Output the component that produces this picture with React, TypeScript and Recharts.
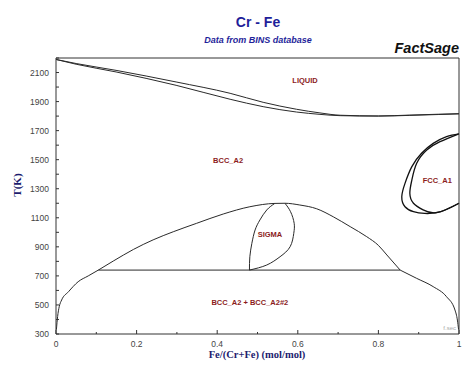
import { LineChart, Line, XAxis, YAxis, ReferenceDot } from "recharts";

// phase boundaries: x = Fe/(Cr+Fe), T in K
const liquidus = [
  { x: 0, T: 2190 }, { x: 0.05, T: 2162 }, { x: 0.149, T: 2115 }, { x: 0.298, T: 2035 },
  { x: 0.432, T: 1957 }, { x: 0.514, T: 1895 }, { x: 0.597, T: 1847 }, { x: 0.655, T: 1822 },
  { x: 0.705, T: 1806 }, { x: 0.8, T: 1801 }, { x: 0.878, T: 1807 }, { x: 0.95, T: 1813 },
  { x: 1, T: 1817 },
];
const solidus = [
  { x: 0, T: 2190 }, { x: 0.05, T: 2157 }, { x: 0.149, T: 2104 }, { x: 0.298, T: 2012 },
  { x: 0.432, T: 1916 }, { x: 0.514, T: 1865 }, { x: 0.597, T: 1828 }, { x: 0.655, T: 1812 },
  { x: 0.705, T: 1803 }, { x: 0.8, T: 1800 }, { x: 0.878, T: 1805 }, { x: 0.95, T: 1811 },
  { x: 1, T: 1815 },
];
const gapLeft = [
  { x: 0.001, T: 330 }, { x: 0.004, T: 420 }, { x: 0.008, T: 488 }, { x: 0.014, T: 534 },
  { x: 0.031, T: 591 }, { x: 0.055, T: 660 }, { x: 0.08, T: 700 }, { x: 0.105, T: 740 },
];
const dome = [
  { x: 0.105, T: 740 }, { x: 0.142, T: 802 }, { x: 0.192, T: 882 }, { x: 0.241, T: 948 },
  { x: 0.291, T: 1004 }, { x: 0.349, T: 1062 }, { x: 0.415, T: 1126 }, { x: 0.481, T: 1176 },
  { x: 0.543, T: 1199 }, { x: 0.568, T: 1200 }, { x: 0.605, T: 1188 }, { x: 0.647, T: 1162 },
  { x: 0.688, T: 1107 }, { x: 0.73, T: 1039 }, { x: 0.771, T: 970 }, { x: 0.8, T: 910 },
  { x: 0.821, T: 844 }, { x: 0.854, T: 740 },
];
const gapRight = [
  { x: 0.854, T: 740 }, { x: 0.895, T: 683 }, { x: 0.936, T: 626 }, { x: 0.969, T: 557 },
  { x: 0.99, T: 465 }, { x: 0.996, T: 396 }, { x: 0.999, T: 330 },
];
const eutectoid = [{ x: 0.105, T: 740 }, { x: 0.854, T: 740 }];
const sigmaLeft = [
  { x: 0.48, T: 740 }, { x: 0.481, T: 832 }, { x: 0.486, T: 924 }, { x: 0.494, T: 1016 },
  { x: 0.506, T: 1085 }, { x: 0.523, T: 1154 }, { x: 0.543, T: 1199 },
];
const sigmaRight = [
  { x: 0.568, T: 1200 }, { x: 0.582, T: 1142 }, { x: 0.591, T: 1062 }, { x: 0.59, T: 993 },
  { x: 0.581, T: 901 }, { x: 0.556, T: 832 }, { x: 0.523, T: 775 }, { x: 0.48, T: 740 },
];
const fccOuter = [
  { x: 1, T: 1678 }, { x: 0.969, T: 1659 }, { x: 0.936, T: 1612 }, { x: 0.907, T: 1544 },
  { x: 0.883, T: 1452 }, { x: 0.866, T: 1337 }, { x: 0.858, T: 1245 }, { x: 0.866, T: 1176 },
  { x: 0.887, T: 1142 }, { x: 0.915, T: 1130 }, { x: 0.955, T: 1142 }, { x: 1, T: 1200 },
];
const fccInner = [
  { x: 1, T: 1678 }, { x: 0.953, T: 1624 }, { x: 0.92, T: 1567 }, { x: 0.895, T: 1475 },
  { x: 0.883, T: 1360 }, { x: 0.878, T: 1269 }, { x: 0.887, T: 1200 }, { x: 0.911, T: 1154 },
  { x: 0.945, T: 1135 }, { x: 1, T: 1200 },
];

const xTicks = [0, 0.1, 0.2, 0.3, 0.4, 0.5, 0.6, 0.7, 0.8, 0.9, 1];
const yTicks = [300, 400, 500, 600, 700, 800, 900, 1000, 1100, 1200, 1300, 1400, 1500, 1600, 1700, 1800, 1900, 2000, 2100, 2200];

const phaseLabels = [
  { x: 0.618, T: 2049, text: "LIQUID" },
  { x: 0.427, T: 1498, text: "BCC_A2" },
  { x: 0.946, T: 1360, text: "FCC_A1" },
  { x: 0.531, T: 988, text: "SIGMA" },
  { x: 0.481, T: 520, text: "BCC_A2 + BCC_A2#2" },
];

const OFF = 8; // default tickSize 6 + tickMargin 2
const FRAME = "#333";
const CURVE = "#2a2a2a";
const TICK_FONT = "'Liberation Sans', Arial, sans-serif";

function LeftTick({ x, y, payload }: any) {
  const ax = x + OFF;
  const major = payload.value % 200 === 100;
  return (
    <g>
      <line x1={ax} x2={ax + 3} y1={y} y2={y} stroke={FRAME} />
      {major && (
        <text x={ax - 7} y={y + 3} textAnchor="end" fontSize={8.5} fill="#444" fontFamily={TICK_FONT}>
          {payload.value}
        </text>
      )}
    </g>
  );
}

function RightTick({ x, y }: any) {
  const ax = x - OFF;
  return <line x1={ax} x2={ax - 3} y1={y} y2={y} stroke={FRAME} />;
}

function BottomTick({ x, y, payload }: any) {
  const ay = y - OFF;
  const v = payload.value;
  const major = Math.round(v * 10) % 2 === 0;
  const label = v === 0 ? "0" : v === 1 ? "1" : v.toFixed(1);
  return (
    <g>
      <line x1={x} x2={x} y1={ay} y2={ay - (major ? 4 : 2)} stroke={FRAME} />
      {major && (
        <text x={x} y={ay + 13} textAnchor="middle" fontSize={8.5} fill="#444" fontFamily={TICK_FONT}>
          {label}
        </text>
      )}
    </g>
  );
}

function TopTick({ x, y }: any) {
  const ay = y + OFF;
  return <line x1={x} x2={x} y1={ay} y2={ay + 3} stroke={FRAME} />;
}

export default function App() {
  const lineProps = {
    xAxisId: "b",
    yAxisId: "l",
    dataKey: "T",
    dot: false,
    isAnimationActive: false,
    strokeWidth: 1,
  };
  return (
    <div style={{ position: "absolute", left: 0, top: 0, width: 474, height: 373, background: "#fff" }}>
      <LineChart width={474} height={373} margin={{ top: 48, right: 5, bottom: 19, left: 16 }}>
        <XAxis
          xAxisId="b"
          type="number"
          dataKey="x"
          domain={[0, 1]}
          ticks={xTicks}
          interval={0}
          height={20}
          stroke={FRAME}
          tickLine={false}
          tick={<BottomTick />}
        />
        <XAxis
          xAxisId="t"
          orientation="top"
          type="number"
          dataKey="x"
          domain={[0, 1]}
          ticks={xTicks}
          interval={0}
          height={10}
          stroke={FRAME}
          tickLine={false}
          tick={<TopTick />}
        />
        <YAxis
          yAxisId="l"
          type="number"
          domain={[300, 2200]}
          ticks={yTicks}
          interval={0}
          width={40}
          stroke={FRAME}
          tickLine={false}
          tick={<LeftTick />}
        />
        <YAxis
          yAxisId="r"
          orientation="right"
          type="number"
          domain={[300, 2200]}
          ticks={yTicks}
          interval={0}
          width={10}
          stroke={FRAME}
          tickLine={false}
          tick={<RightTick />}
        />
        <Line {...lineProps} data={liquidus} type="monotone" stroke={CURVE} />
        <Line {...lineProps} data={solidus} type="monotone" stroke={CURVE} />
        <Line {...lineProps} data={gapLeft} type="monotone" stroke={CURVE} />
        <Line {...lineProps} data={dome} type="monotone" stroke={CURVE} />
        <Line {...lineProps} data={gapRight} type="monotone" stroke={CURVE} />
        <Line {...lineProps} data={eutectoid} type="linear" stroke={CURVE} />
        <Line {...lineProps} data={sigmaLeft} type="natural" stroke={CURVE} />
        <Line {...lineProps} data={sigmaRight} type="natural" stroke={CURVE} />
        <Line {...lineProps} data={fccOuter} type="natural" stroke="#111" strokeWidth={1.3} />
        <Line {...lineProps} data={fccInner} type="natural" stroke="#111" strokeWidth={1.3} />
        {phaseLabels.map((p) => (
          <ReferenceDot
            key={p.text}
            xAxisId="b"
            yAxisId="l"
            x={p.x}
            y={p.T}
            r={0}
            stroke="none"
            fill="none"
            label={{
              value: p.text,
              position: "center",
              fill: "#8b1c1c",
              fontSize: 7.5,
              fontWeight: "bold",
              fontFamily: TICK_FONT,
            }}
          />
        ))}
      </LineChart>
      <svg width={474} height={373} style={{ position: "absolute", left: 0, top: 0, pointerEvents: "none" }}>
        <text x={258} y={27} textAnchor="middle" fontSize={14} fontWeight="bold" fill="#1f1f9a" fontFamily={TICK_FONT}>
          Cr - Fe
        </text>
        <text x={258} y={43} textAnchor="middle" fontSize={9} fontWeight="bold" fontStyle="italic" fill="#1f1f9a" fontFamily={TICK_FONT}>
          Data from BINS database
        </text>
        <text x={459} y={53} textAnchor="end" fontSize={14.5} fontWeight="bold" fontStyle="italic" fill="#111" fontFamily={TICK_FONT}>
          FactSage
        </text>
        <text
          x={21}
          y={185}
          transform="rotate(-90 21 185)"
          textAnchor="middle"
          fontSize={11}
          fontWeight="bold"
          fill="#1c1c6e"
          fontFamily="'Liberation Serif', 'Times New Roman', serif"
        >
          T(K)
        </text>
        <text
          x={257}
          y={358}
          textAnchor="middle"
          fontSize={10.5}
          fontWeight="bold"
          fill="#1c1c6e"
          fontFamily="'Liberation Serif', 'Times New Roman', serif"
        >
          Fe/(Cr+Fe) (mol/mol)
        </text>
        <text x={456} y={330} textAnchor="end" fontSize={6} fill="#aaa" fontFamily={TICK_FONT}>
          f.sec
        </text>
      </svg>
    </div>
  );
}
